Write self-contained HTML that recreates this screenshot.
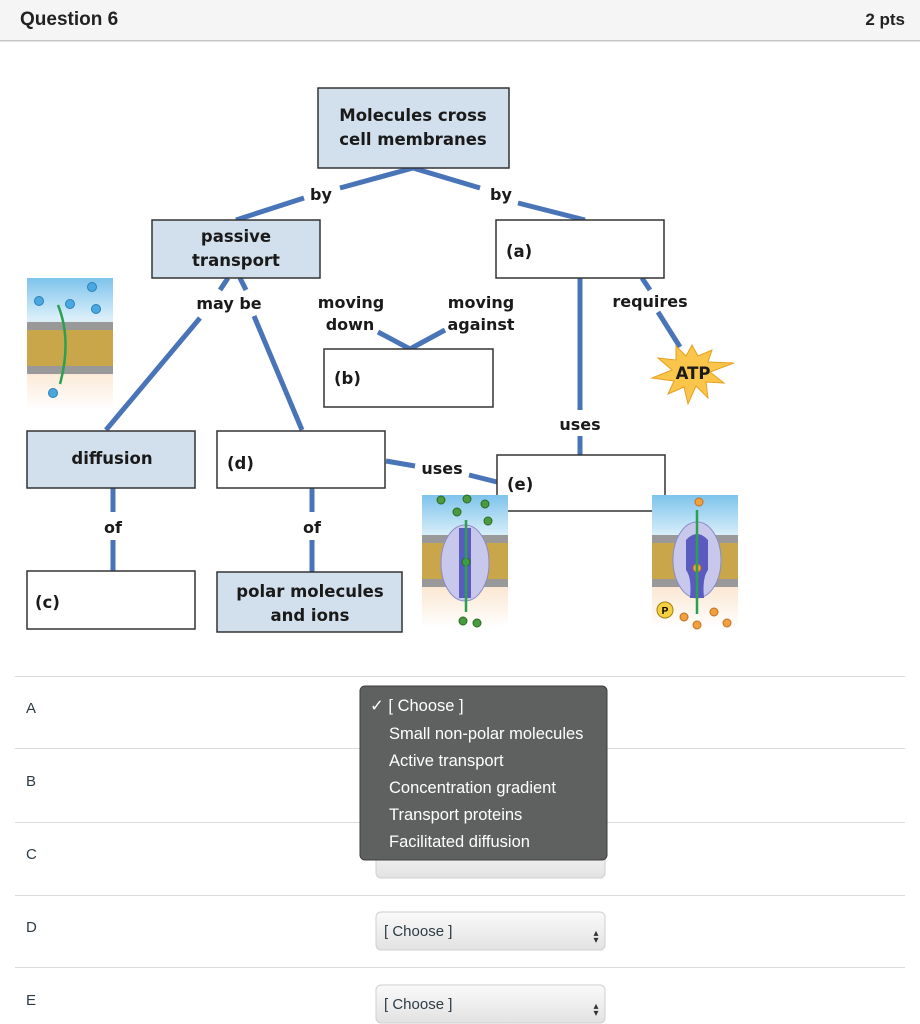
<!DOCTYPE html>
<html><head><meta charset="utf-8"><style>
html,body{margin:0;padding:0;background:#fff;width:920px;height:1024px;overflow:hidden}
svg{display:block}
.b{font-family:"DejaVu Sans","Liberation Sans",sans-serif;font-weight:bold;font-size:16.5px;fill:#1a1a1a}
.l{font-family:"DejaVu Sans","Liberation Sans",sans-serif;font-weight:bold;font-size:16px;fill:#1a1a1a}
.s{font-family:"Liberation Sans",sans-serif;font-size:15px;fill:#2d3b45}
.m{font-family:"Liberation Sans",sans-serif;font-size:16.5px;fill:#fff}
</style></head><body>
<svg width="920" height="1024" viewBox="0 0 920 1024" xmlns="http://www.w3.org/2000/svg">
<defs>
<linearGradient id="mem" x1="0" y1="0" x2="0" y2="1">
<stop offset="0" stop-color="#7ec3ec"/><stop offset="0.3" stop-color="#d8eef9"/><stop offset="0.7" stop-color="#fbe8d4"/><stop offset="1" stop-color="#fff"/></linearGradient>
<linearGradient id="sel" x1="0" y1="0" x2="0" y2="1"><stop offset="0" stop-color="#fafafa"/><stop offset="1" stop-color="#e2e2e2"/></linearGradient>
<g id="bil">
<rect x="0" y="0" width="86" height="52" fill="#c9a64a"/>
<rect x="0" y="0" width="86" height="8" fill="#999"/>
<rect x="0" y="44" width="86" height="8" fill="#999"/>
</g>
</defs>
<rect x="0" y="0" width="920" height="41" fill="#f5f5f5"/>
<rect x="0" y="40" width="920" height="1.5" fill="#c7c7c7"/>
<text x="20" y="25" font-family="Liberation Sans,sans-serif" font-size="19" font-weight="600" fill="#222">Question 6</text>
<text x="905" y="25" text-anchor="end" font-family="Liberation Sans,sans-serif" font-size="17" font-weight="600" fill="#222">2 pts</text>

<g stroke="#4a74b8" stroke-width="5" fill="none">
<line x1="413" y1="168" x2="340" y2="188"/><line x1="304" y1="198" x2="236" y2="220"/>
<line x1="413" y1="168" x2="480" y2="188"/><line x1="518" y1="203" x2="585" y2="220"/>
<line x1="228" y1="278" x2="220" y2="290"/><line x1="240" y1="278" x2="246" y2="290"/>
<line x1="200" y1="318" x2="106" y2="430"/><line x1="254" y1="316" x2="302" y2="430"/>
<polyline points="378,332 410,349 445,330"/>
<line x1="580" y1="278" x2="580" y2="410"/><line x1="580" y1="436" x2="580" y2="455"/>
<line x1="642" y1="278" x2="650" y2="290"/><line x1="658" y1="312" x2="680" y2="347"/>
<line x1="113" y1="488" x2="113" y2="512"/><line x1="113" y1="540" x2="113" y2="571"/>
<line x1="312" y1="488" x2="312" y2="512"/><line x1="312" y1="540" x2="312" y2="572"/>
<line x1="386" y1="461" x2="415" y2="466"/><line x1="469" y1="475" x2="497" y2="482"/>
</g>

<g stroke="#333" stroke-width="1.5">
<rect x="318" y="88" width="191" height="80" fill="#d2dfed"/>
<rect x="152" y="220" width="168" height="58" fill="#d2dfed"/>
<rect x="496" y="220" width="168" height="58" fill="#fff"/>
<rect x="324" y="349" width="169" height="58" fill="#fff"/>
<rect x="27" y="431" width="168" height="57" fill="#d2dfed"/>
<rect x="217" y="431" width="168" height="57" fill="#fff"/>
<rect x="497" y="455" width="168" height="56" fill="#fff"/>
<rect x="27" y="571" width="168" height="58" fill="#fff"/>
<rect x="217" y="572" width="185" height="60" fill="#d2dfed"/>
</g>
<text class="b" x="413" y="121" text-anchor="middle">Molecules cross</text>
<text class="b" x="413" y="145" text-anchor="middle">cell membranes</text>
<text class="b" x="236" y="242" text-anchor="middle">passive</text>
<text class="b" x="236" y="266" text-anchor="middle">transport</text>
<text class="b" x="506" y="257">(a)</text>
<text class="b" x="334" y="384">(b)</text>
<text class="b" x="112" y="464" text-anchor="middle">diffusion</text>
<text class="b" x="227" y="469">(d)</text>
<text class="b" x="507" y="490">(e)</text>
<text class="b" x="35" y="608">(c)</text>
<text class="b" x="310" y="597" text-anchor="middle">polar molecules</text>
<text class="b" x="310" y="621" text-anchor="middle">and ions</text>

<text class="l" x="321" y="200" text-anchor="middle">by</text>
<text class="l" x="501" y="200" text-anchor="middle">by</text>
<text class="l" x="229" y="309" text-anchor="middle">may be</text>
<text class="l" x="351" y="308" text-anchor="middle">moving</text>
<text class="l" x="350" y="330" text-anchor="middle">down</text>
<text class="l" x="481" y="308" text-anchor="middle">moving</text>
<text class="l" x="481" y="330" text-anchor="middle">against</text>
<text class="l" x="650" y="307" text-anchor="middle">requires</text>
<text class="l" x="580" y="430" text-anchor="middle">uses</text>
<text class="l" x="442" y="474" text-anchor="middle">uses</text>
<text class="l" x="113" y="533" text-anchor="middle">of</text>
<text class="l" x="312" y="533" text-anchor="middle">of</text>

<polygon fill="#f9c54a" stroke="#e8a020" stroke-width="1" points="692,345 698,356 712,350 708,362 734,363 710,372 724,383 706,382 708,398 696,386 688,404 684,387 668,394 674,381 652,378 672,370 658,358 676,360 676,346 686,356"/>
<text class="b" x="693" y="379" text-anchor="middle" font-size="17">ATP</text>

<rect x="27" y="278" width="86" height="132" fill="url(#mem)"/>
<use href="#bil" x="27" y="322"/>
<g fill="#4aa8e0" stroke="#2a7fb8" stroke-width="1">
<circle cx="39" cy="301" r="4.5"/><circle cx="70" cy="304" r="4.5"/><circle cx="92" cy="287" r="4.5"/><circle cx="96" cy="309" r="4.5"/><circle cx="53" cy="393" r="4.5"/>
</g>
<path d="M58,305 Q72,340 60,384" stroke="#2aa050" stroke-width="2.5" fill="none"/>

<rect x="422" y="495" width="86" height="133" fill="url(#mem)"/>
<use href="#bil" x="422" y="535"/>
<ellipse cx="465" cy="563" rx="24" ry="38" fill="#c8c8ec" stroke="#8a8ac8"/>
<rect x="459" y="528" width="12" height="70" fill="#5a5ac0"/>
<g fill="#4a9a40" stroke="#2a6a20" stroke-width="1">
<circle cx="441" cy="500" r="4"/><circle cx="467" cy="499" r="4"/><circle cx="485" cy="504" r="4"/><circle cx="457" cy="512" r="4"/><circle cx="488" cy="521" r="4"/><circle cx="466" cy="562" r="4"/><circle cx="463" cy="621" r="4"/><circle cx="477" cy="623" r="4"/>
</g>
<line x1="466" y1="520" x2="466" y2="612" stroke="#2aa050" stroke-width="2.5"/>

<rect x="652" y="495" width="86" height="133" fill="url(#mem)"/>
<use href="#bil" x="652" y="535"/>
<ellipse cx="697" cy="560" rx="24" ry="38" fill="#c8c8ec" stroke="#8a8ac8"/>
<path d="M686,540 Q697,528 708,540 L708,570 Q702,578 704,598 L690,598 Q692,578 686,570 Z" fill="#5a5ac0"/>
<g fill="#f0a040" stroke="#c07020" stroke-width="1">
<circle cx="699" cy="502" r="4"/><circle cx="697" cy="568" r="4"/><circle cx="684" cy="617" r="4"/><circle cx="697" cy="625" r="4"/><circle cx="714" cy="612" r="4"/><circle cx="727" cy="623" r="4"/>
</g>
<circle cx="665" cy="610" r="8" fill="#f5d040" stroke="#a08010"/>
<text x="665" y="614" text-anchor="middle" font-family="Liberation Sans,sans-serif" font-weight="bold" font-size="10">P</text>
<line x1="697" y1="510" x2="697" y2="614" stroke="#2aa050" stroke-width="2.5"/>

<g fill="#dcdcdc">
<rect x="15" y="676" width="890" height="1"/><rect x="15" y="748" width="890" height="1"/>
<rect x="15" y="822" width="890" height="1"/><rect x="15" y="895" width="890" height="1"/>
<rect x="15" y="967" width="890" height="1"/>
</g>
<text class="s" x="26" y="713">A</text>
<text class="s" x="26" y="786">B</text>
<text class="s" x="26" y="859">C</text>
<text class="s" x="26" y="932">D</text>
<text class="s" x="26" y="1005">E</text>

<rect x="376" y="842" width="229" height="36" rx="5" fill="url(#sel)" stroke="#cfcfcf"/>
<rect x="376" y="912" width="229" height="38" rx="5" fill="url(#sel)" stroke="#cfcfcf"/>
<text class="s" x="384" y="936">[ Choose ]</text>
<text x="596" y="936" text-anchor="middle" font-size="10" fill="#333">▴</text>
<text x="596" y="943" text-anchor="middle" font-size="10" fill="#333">▾</text>
<rect x="376" y="985" width="229" height="38" rx="5" fill="url(#sel)" stroke="#cfcfcf"/>
<text class="s" x="384" y="1009">[ Choose ]</text>
<text x="596" y="1009" text-anchor="middle" font-size="10" fill="#333">▴</text>
<text x="596" y="1016" text-anchor="middle" font-size="10" fill="#333">▾</text>
<rect x="604" y="688" width="3" height="40" fill="#5b8fd8"/>

<rect x="360" y="686" width="247" height="174" rx="5" fill="#5f6161" stroke="#3e3e3e"/>
<text class="m" x="370" y="711">✓ [ Choose ]</text>
<text class="m" x="389" y="739">Small non-polar molecules</text>
<text class="m" x="389" y="766">Active transport</text>
<text class="m" x="389" y="793">Concentration gradient</text>
<text class="m" x="389" y="820">Transport proteins</text>
<text class="m" x="389" y="847">Facilitated diffusion</text>
</svg>
</body></html>
